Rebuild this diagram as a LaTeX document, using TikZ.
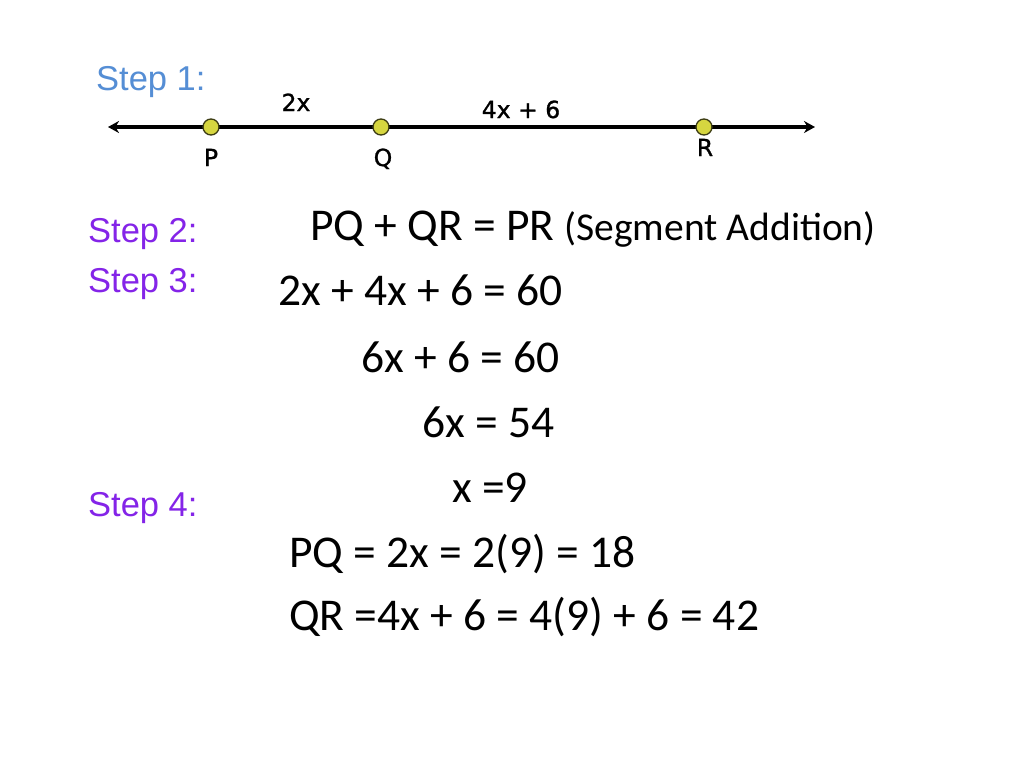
\documentclass[tikz,border=0pt]{standalone}
\usepackage{fontspec}
\usetikzlibrary{arrows.meta}
\newfontfamily\calfont{Carlito}
\newfontfamily\arialfont{Liberation Sans}
\newfontfamily\dvfont[FakeBold=1.2]{DejaVu Sans}
\definecolor{stepblue}{RGB}{85,142,213}
\definecolor{steppurple}{RGB}{132,36,232}
\definecolor{ptfill}{RGB}{214,214,64}
\definecolor{ptdraw}{RGB}{60,60,20}
\begin{document}
\begin{tikzpicture}[x=1pt,y=-1pt,
  steplabel/.style={anchor=base west,inner sep=0,font=\arialfont\fontsize{34.5}{40}\selectfont},
  eqn/.style={anchor=base west,inner sep=0,font=\calfont\fontsize{45.5}{52}\selectfont},
  linelabel/.style={anchor=base,inner sep=0,font=\dvfont\fontsize{23.5}{28}\selectfont,text=black},
  ptmark/.style={circle,minimum size=16,inner sep=0,draw=ptdraw,line width=1.3,fill=ptfill}]
\useasboundingbox[fill=white] (0,0) rectangle (1024,768);

% number line
\coordinate (Lend) at (108,127);
\coordinate (Rend) at (815,127);
\draw[line width=3.8,{Stealth[length=11,width=12]}-{Stealth[length=11,width=12]}] (Lend) -- (Rend);
\node[ptmark] (P) at (211,127) {};
\node[ptmark] (Q) at (381,127) {};
\node[ptmark] (R) at (704,127) {};
\node[linelabel] (lP) at (211,166) {P};
\node[linelabel] (lQ) at (383,166) {Q};
\node[linelabel] (lR) at (705,156) {R};
\node[linelabel] (l2x) at (296,111) {2x};
\node[linelabel] (l4x) at (521,118) {4x + 6};

% step labels
\node[steplabel,text=stepblue] (s1) at (96,90) {Step 1:};
\node[steplabel,text=steppurple] (s2) at (88,242) {Step 2:};
\node[steplabel,text=steppurple] (s3) at (88,292) {Step 3:};
\node[steplabel,text=steppurple] (s4) at (88,516) {Step 4:};

% equations
\node[eqn] (e1) at (310,240) {PQ + QR = PR {\fontsize{39.5}{46}\selectfont(Segment Addition)}};
\node[eqn] (e2) at (278,305) {2x + 4x + 6 = 60};
\node[eqn] (e3) at (361,372) {6x + 6 = 60};
\node[eqn] (e4) at (422,437) {6x = 54};
\node[eqn] (e5) at (452,502) {x =9};
\node[eqn] (e6) at (289,567) {PQ = 2x = 2(9) = 18};
\node[eqn] (e7) at (289,630) {QR =4x + 6 = 4(9) + 6 = 42};
\end{tikzpicture}
\end{document}
